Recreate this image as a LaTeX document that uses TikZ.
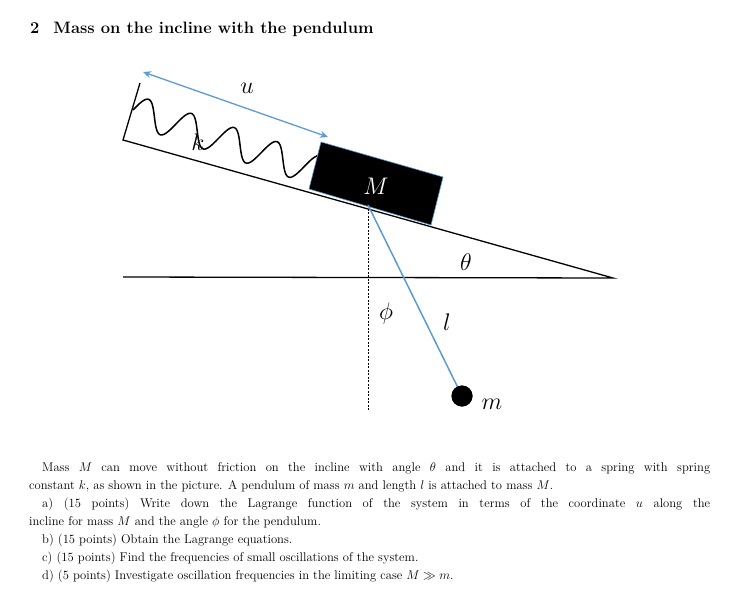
\RequirePackage{fix-cm}
\documentclass[tikz,border=0pt]{standalone}
\usepackage{amsmath,amssymb}
\usepackage{fontspec}
\usetikzlibrary{arrows.meta}
\begin{document}
\begin{tikzpicture}[x=1pt,y=-1pt,
  lbl/.style={inner sep=0pt, font=\fontsize{24}{24}\selectfont}]
\definecolor{myblue}{RGB}{91,155,213}
\useasboundingbox (0,0) rectangle (738,605);
\node[anchor=west, inner sep=0pt, font=\fontsize{16.5}{20}\selectfont\bfseries] (title) at (30,29) {2\hspace{14pt}Mass on the incline with the pendulum};
% incline
\coordinate (w0) at (123,140);
\coordinate (w1) at (140,83);
\coordinate (tip) at (613,278);
\coordinate (h0) at (123,277);
\draw[line width=1.3pt] (w1) -- (w0) -- (tip) -- (h0);
% spring
\draw[line width=1.5pt] (133,110) -- plot[domain=0:1,samples=150,smooth] ({133+182*\x+15*sin(4.25*360*\x)*0.321},{110+60*\x-15*sin(4.25*360*\x)*0.948});
% block
\fill[black, draw=myblue, line width=0.6pt] (321,142) -- (443,177) -- (431,225) -- (309,189) -- cycle;
\node[lbl, text=white] (M) at (376,186) {$M$};
% u arrow
\coordinate (ua) at (143,72);
\coordinate (ub) at (328,137);
\draw[myblue, line width=1.3pt, {Stealth[length=8pt,width=7pt]}-{Stealth[length=8pt,width=7pt]}] (ua) -- (ub);
\node[lbl] (u) at (247,88) {$u$};
\node[lbl] (k) at (198,142) {$k$};
% dashed vertical
\coordinate (pv) at (368,205);
\coordinate (dv) at (368,410);
\draw[line width=0.6pt, dash pattern=on 2pt off 1.5pt] (pv) -- (dv);
% pendulum
\node[circle, fill=black, minimum size=21pt, inner sep=0pt] (ball) at (462,396) {};
\draw[myblue, line width=1.5pt] (pv) -- (ball.center);
\node[circle, fill=black, minimum size=21pt, inner sep=0pt] at (462,396) {};
\node[lbl] (th) at (466,262) {$\theta$};
\node[lbl] (phi) at (386,313) {$\phi$};
\node[lbl] (l) at (447,322) {$l$};
\node[lbl] (m) at (492,404) {$m$};
% text
\node[anchor=north west, inner sep=0pt, text width=681pt, align=justify, font=\fontsize{12.6}{18}\selectfont] (txt) at (29,462) {%
\hspace*{13pt}Mass $M$ can move without friction on the incline with angle $\theta$ and it is attached to a spring with spring\linebreak
constant $k$, as shown in the picture. A pendulum of mass $m$ and length $l$ is attached to mass $M$.\\
\hspace*{13pt}a) (15 points) Write down the Lagrange function of the system in terms of the coordinate $u$ along the\linebreak
incline for mass $M$ and the angle $\phi$ for the pendulum.\\
\hspace*{13pt}b) (15 points) Obtain the Lagrange equations.\\
\hspace*{13pt}c) (15 points) Find the frequencies of small oscillations of the system.\\
\hspace*{13pt}d) (5 points) Investigate oscillation frequencies in the limiting case $M\gg m$.};
\end{tikzpicture}
\end{document}
